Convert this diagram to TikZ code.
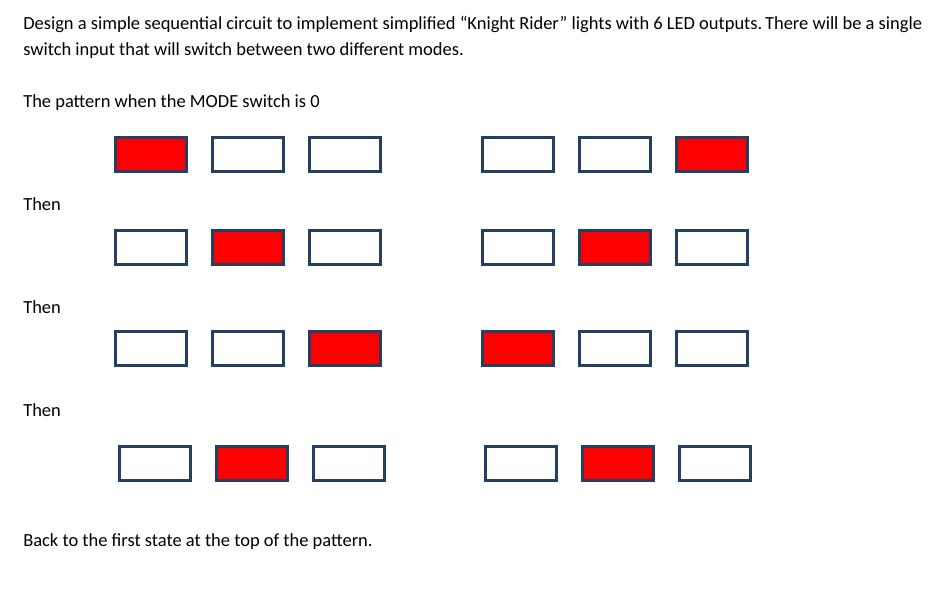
\documentclass[tikz,border=0pt]{standalone}
\usepackage{fontspec}
\setmainfont{Carlito}
\usetikzlibrary{positioning}
\definecolor{ledline}{RGB}{36,63,98}
\tikzstyle{led} = [rectangle, draw=ledline, line width=2.25pt, minimum width=53.25pt, minimum height=25.5pt, inner sep=0pt, fill=white]
\tikzstyle{ledon} = [led, fill=red]
\tikzstyle{txt} = [anchor=base west, inner sep=0pt, align=left, font=\fontsize{13.85}{19.5}\selectfont]
\begin{document}
\begin{tikzpicture}[x=0.75pt, y=-0.75pt, node distance=17.25pt]
		\useasboundingbox (0,0) rectangle (952,605);
		\node (Task) [txt] at (23,55.5) {Design a simple sequential circuit to implement simplified ``Knight Rider'' lights with 6 LED outputs.\ \hspace{-1pt}There will be a single\\switch input that will switch between two different modes.};
		\node (ModeZero) [txt] at (23,107.5) {The pattern when the MODE switch is 0};
		% first state
		\node (LedA1) [ledon] at (151,154.5) {};
		\node (LedB1) [led, right = of LedA1] {};
		\node (LedC1) [led, right = of LedB1] {};
		\node (LedD1) [led, right = 73.9pt of LedC1] {};
		\node (LedE1) [led, right = of LedD1] {};
		\node (LedF1) [ledon, right = of LedE1] {};
		\node (ThenA) [txt] at (23,210.5) {Then};
		% second state
		\node (LedA2) [led] at (151,247.5) {};
		\node (LedB2) [ledon, right = of LedA2] {};
		\node (LedC2) [led, right = of LedB2] {};
		\node (LedD2) [led, right = 73.9pt of LedC2] {};
		\node (LedE2) [ledon, right = of LedD2] {};
		\node (LedF2) [led, right = of LedE2] {};
		\node (ThenB) [txt] at (23,313.5) {Then};
		% third state
		\node (LedA3) [led] at (151,348.5) {};
		\node (LedB3) [led, right = of LedA3] {};
		\node (LedC3) [ledon, right = of LedB3] {};
		\node (LedD3) [ledon, right = 73.9pt of LedC3] {};
		\node (LedE3) [led, right = of LedD3] {};
		\node (LedF3) [led, right = of LedE3] {};
		\node (ThenC) [txt] at (23,416.5) {Then};
		% fourth state
		\node (LedA4) [led] at (154.5,463) {};
		\node (LedB4) [ledon, right = of LedA4] {};
		\node (LedC4) [led, right = of LedB4] {};
		\node (LedD4) [led, right = 73.9pt of LedC4] {};
		\node (LedE4) [ledon, right = of LedD4] {};
		\node (LedF4) [led, right = of LedE4] {};
		\node (Back) [txt] at (23,546) {Back to the first state at the top of the pattern.};
\end{tikzpicture}
\end{document}
